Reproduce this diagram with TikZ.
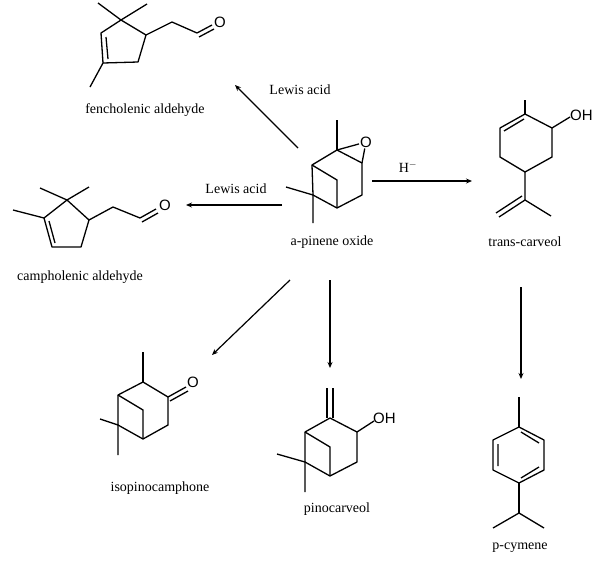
\documentclass[tikz,border=0pt]{standalone}
\usepackage{fontspec}
\setmainfont{Liberation Serif}
\newfontfamily\atomfont{Liberation Sans}
\usetikzlibrary{arrows.meta}
\begin{document}
\begin{tikzpicture}[x=1pt,y=-1pt,line width=1.3pt,line join=round,
  lbl/.style={font=\fontsize{14}{16}\selectfont,inner sep=1pt},
  atom/.style={font=\atomfont\fontsize{15}{17}\selectfont,inner sep=0.5pt},
  rxn/.style={-{Stealth[length=6pt,width=5pt]},line width=1.2pt}]
\useasboundingbox (0,0) rectangle (600,560);
% fencholenic aldehyde
\draw (98,3)--(121,20)--(147,4);
\draw (121,20)--(101,33)--(103,63)--(138,62)--(146,35)--cycle;
\draw (106,37)--(108,59);
\draw (103,63)--(90,87);
\draw (146,35)--(172,22)--(197,33);
\draw (197,33)--(212,25) (199,37)--(214,29);
\node[atom] (o1) at (220,22) {O};
\node[lbl] (fench) at (145,110) {fencholenic aldehyde};
% campholenic aldehyde
\draw (40,188)--(67,200)--(89,187);
\draw (67,200)--(44,218)--(52,247)--(81,247)--(89,220)--cycle;
\draw (49,221)--(55,243);
\draw (44,218)--(13,210);
\draw (89,220)--(113,207)--(140,218);
\draw (140,218)--(156,209) (142,222)--(158,213);
\node[atom] (o2) at (165,205) {O};
\node[lbl] (camph) at (80,277) {campholenic aldehyde};
% alpha-pinene oxide
\draw (337,120)--(337,150);
\draw (337,150)--(362,163)--(362,195)--(337,208)--(313,195)--(312,165)--cycle;
\draw (312,165)--(337,180)--(337,208);
\draw (286,187)--(313,195)--(313,223);
\node[atom] (o3) at (366,142) {O};
\draw (337,150)--(o3) (362,163)--(o3);
\node[lbl] (pin) at (332,242) {a-pinene oxide};
% trans-carveol
\draw (525,100)--(525,114);
\draw (525,114)--(552,128)--(552,157)--(525,172)--(500,157)--(500,128)--cycle;
\draw (504,131)--(524,119);
\draw (552,128)--(570,117);
\node[atom,anchor=west] (oh1) at (569,115) {OH};
\draw (525,172)--(525,200)--(551,216);
\draw (525,200)--(499,217) (522,196)--(496,213);
\node[lbl] (carv) at (525,242) {trans-carveol};
% isopinocamphone
\draw (143,352)--(143,382);
\draw (143,382)--(168,397)--(168,425)--(143,439)--(118,425)--(118,395)--cycle;
\draw (118,395)--(143,410)--(143,439);
\draw (100,419)--(118,425)--(118,455);
\draw (168,397)--(186,387) (170,401)--(188,391);
\node[atom] (o4) at (193,382) {O};
\node[lbl] (iso) at (160,488) {isopinocamphone};
% pinocarveol
\draw (330,418)--(357,432)--(357,462)--(330,476)--(305,462)--(305,432)--cycle;
\draw (305,432)--(330,447)--(330,476);
\draw (277,454)--(305,462)--(305,492);
\draw (327,388)--(327,418) (333,388)--(333,418);
\draw (357,432)--(374,421);
\node[atom,anchor=west] (oh2) at (372,418) {OH};
\node[lbl] (pino) at (337,509) {pinocarveol};
% p-cymene
\draw (519,397)--(519,427);
\draw (519,427)--(544,440)--(544,470)--(519,483)--(493,470)--(493,440)--cycle;
\draw (498,444)--(498,466) (521,432)--(539,443) (521,478)--(539,467);
\draw (519,483)--(519,513);
\draw (493,528)--(519,513)--(544,528);
\node[lbl] (cym) at (520,548) {p-cymene};
% reaction arrows
\coordinate (a1s) at (298,148); \coordinate (a1e) at (235,85);
\draw[rxn] (a1s)--(a1e);
\node[lbl] (la1) at (300,90) {Lewis acid};
\coordinate (a2s) at (282,205); \coordinate (a2e) at (186,205);
\draw[rxn] (a2s)--(a2e);
\node[lbl] (la2) at (236,189) {Lewis acid};
\coordinate (a3s) at (372,181); \coordinate (a3e) at (472,181);
\draw[rxn] (a3s)--(a3e);
\node[lbl] (hm) at (408,167) {H$^{-}$};
\coordinate (a4s) at (290,280); \coordinate (a4e) at (212,355);
\draw[rxn] (a4s)--(a4e);
\coordinate (a5s) at (330,280); \coordinate (a5e) at (330,368);
\draw[rxn] (a5s)--(a5e);
\coordinate (a6s) at (521,287); \coordinate (a6e) at (521,379);
\draw[rxn] (a6s)--(a6e);
\end{tikzpicture}
\end{document}
